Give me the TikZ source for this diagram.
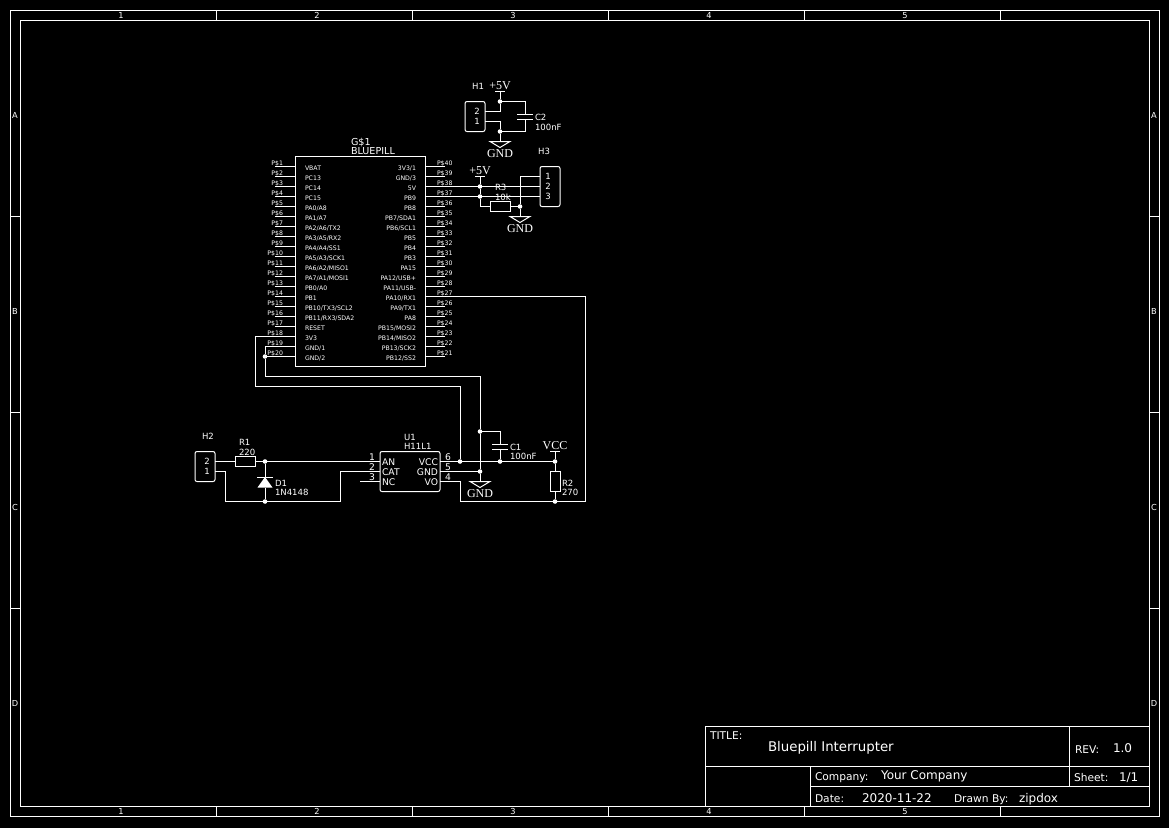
\documentclass[tikz,border=0pt]{standalone}
\usepackage{fontspec}
\setmainfont{DejaVu Sans}
\newfontfamily\symfont{Liberation Serif}
\def\px{0.75pt}
\tikzset{
	every path/.style={white},
	every node/.style={text=white,inner sep=0pt,outer sep=0pt},
	junction/.style={circle,fill=white,draw=none,minimum size=4.6*\px},
	res/.style={draw,minimum width=20*\px,minimum height=10*\px},
	resv/.style={draw,minimum width=10*\px,minimum height=20*\px},
	header/.style={draw,rounded corners=1.5pt,minimum width=20*\px},
	pinfont/.style={font=\fontsize{4.65pt}{0pt}\selectfont},
	partfont/.style={font=\fontsize{6.4pt}{0pt}\selectfont},
	framefont/.style={font=\fontsize{6.2pt}{0pt}\selectfont},
	icfont/.style={font=\fontsize{6.9pt}{0pt}\selectfont},
	titlefont/.style={font=\fontsize{8pt}{0pt}\selectfont},
	bigfont/.style={font=\fontsize{9pt}{0pt}\selectfont},
	symfont/.style={font=\fontsize{9pt}{0pt}\symfont},
}
\begin{document}
\begin{tikzpicture}[x=0.75pt,y=-0.75pt,line width=0.75pt,line join=miter]
	\fill[black] (0,0) rectangle (1169,828);
	\useasboundingbox (0,0) rectangle (1169,828);
	\begin{scope}[yshift=-0.375pt]
		% sheet frame
		\node[draw,minimum width=1149*\px,minimum height=806*\px] (outer) at (584.5,413) {};
		\node[draw,minimum width=1129*\px,minimum height=786*\px] (inner) at (584.5,413) {};
		\foreach \x/\n in {216/1,412/2,608/3,804/4,1000/5}
		{
			\draw (\x,10)--(\x,20);
			\draw (\x,806)--(\x,816);
			\node[framefont] (top\n) at (\x-95,15) {\n};
			\node[framefont] (bot\n) at (\x-95,811) {\n};
		}
		\foreach \y/\n in {216/A,412/B,608/C,804/D}
		{
			\ifnum\y<800
			\draw (10,\y)--(20,\y);
			\draw (1149,\y)--(1159,\y);
			\fi
			\node[framefont] (left\n) at (15,\y-101) {\n};
			\node[framefont] (right\n) at (1154,\y-101) {\n};
		}
		% title block
		\node[draw,minimum width=444*\px,minimum height=80*\px] (block) at (927,766) {};
		\coordinate (bla) at (705,766);
		\coordinate (blb) at (1149,766);
		\coordinate (blc) at (1069,726);
		\coordinate (bld) at (1069,786);
		\coordinate (ble) at (810,766);
		\coordinate (blf) at (810,806);
		\coordinate (blg) at (1149,786);
		\draw (bla)--(blb);
		\draw (blc)--(bld);
		\draw (ble)--(blf);
		\draw (blf |- blg)--(blg);
		\node[anchor=mid west,titlefont] (ttitle) at (710,735) {TITLE:};
		\node[anchor=mid west,font=\fontsize{10pt}{0pt}\selectfont] (tname) at (768,747) {Bluepill Interrupter};
		\node[anchor=mid west,titlefont] (trev) at (1075,749) {REV:};
		\node[anchor=mid west,bigfont] (trevn) at (1113,748) {1.0};
		\node[anchor=mid west,titlefont] (tsheet) at (1074,777) {Sheet:};
		\node[anchor=mid west,bigfont] (tsheetn) at (1119,777) {1/1};
		\node[anchor=mid west,titlefont] (tcomp) at (815,776) {Company:};
		\node[anchor=mid west,bigfont] (tcompn) at (881,775.5) {Your Company};
		\node[anchor=mid west,titlefont] (tdate) at (815,798) {Date:};
		\node[anchor=mid west,bigfont] (tdaten) at (862,798) {2020-11-22};
		\node[anchor=mid west,titlefont] (tdrawn) at (954,798) {Drawn By:};
		\node[anchor=mid west,bigfont] (tdrawnn) at (1019,798) {zipdox};
		% bluepill
		\node[draw,minimum width=130*\px,minimum height=210*\px] (g1) at (360,261) {};
		\node[anchor=mid west,font=\fontsize{7.2pt}{0pt}\selectfont] (g1name) at (351,141) {G\$1};
		\node[anchor=mid west,font=\fontsize{7.2pt}{0pt}\selectfont] (g1val) at (351,150) {BLUEPILL};
		\foreach \lbl [count=\i] in {VBAT,PC13,PC14,PC15,PA0/A8,PA1/A7,PA2/A6/TX2,PA3/A5/RX2,PA4/A4/SS1,PA5/A3/SCK1,PA6/A2/MISO1,PA7/A1/MOSI1,PB0/A0,PB1,PB10/TX3/SCL2,PB11/RX3/SDA2,RESET,3V3,GND/1,GND/2}
		{
			\coordinate (l\i) at (275,{156+10*\i});
			\draw (l\i)--(l\i -| g1.west);
			\node[anchor=mid east,pinfont] (ln\i) at (283,{151+10*\i}) {P\$\i};
			\node[anchor=mid west,pinfont] (lt\i) at (305,{156.7+10*\i}) {\lbl};
		}
		\foreach \lbl [count=\i] in {3V3/1,GND/3,5V,PB9,PB8,PB7/SDA1,PB6/SCL1,PB5,PB4,PB3,PA15,PA12/USB+,PA11/USB-,PA10/RX1,PA9/TX1,PA8,PB15/MOSI2,PB14/MISO2,PB13/SCK2,PB12/SS2}
		{
			\pgfmathtruncatemacro\n{41-\i}
			\coordinate (r\n) at (445,{156+10*\i});
			\draw (r\n)--(r\n -| g1.east);
			\node[anchor=mid west,pinfont] (rn\n) at (437,{151+10*\i}) {P\$\n};
			\node[anchor=mid east,pinfont] (rt\n) at (416,{156.7+10*\i}) {\lbl};
		}
		% junctions
		\foreach \nm/\x/\y in {ja/500/101,jb/500/131,jc/480/186,jd/480/196,je/520/206,jf/265/356,jg/265/461,jh/265/501,ji/480/431,jj/480/471,jk/460/461,jl/500/461,jm/555/461,jn/555/501}
		{\node[junction] (\nm) at (\x,\y) {};}
		% supply and ground symbols
		\foreach \nm/\x/\y in {gnda/500/141,gndb/520/216,gndc/480/481}
		{
			\coordinate (\nm) at (\x,\y);
			\draw (\x-10,\y)--(\x+10,\y)--(\x,\y+6)--cycle;
			\node[symfont] (\nm t) at (\x,\y+12) {GND};
		}
		\foreach \nm/\x/\y in {vpa/500/91,vpb/480/176}
		{
			\coordinate (\nm) at (\x,\y);
			\draw (\x-5,\y)--(\x+5,\y);
			\node[symfont] (\nm t) at (\x,\y-5.5) {+5V};
		}
		\coordinate (vcc) at (555,451);
		\draw (550,451)--(560,451);
		\node[symfont] (vcct) at (555,445.5) {VCC};
		% H1 and C2
		\node[header,minimum height=30*\px] (h1) at (475,116) {};
		\node[partfont] (h1n) at (478,86) {H1};
		\node[partfont] (h1b) at (477,111) {2};
		\node[partfont] (h1a) at (477,121) {1};
		\coordinate (h1p2) at (485,111);
		\coordinate (h1p1) at (485,121);
		\coordinate (c2t) at (525,114);
		\coordinate (c2b) at (525,118.5);
		\draw (vpa)--(ja)--(ja |- h1p2)--(h1p2);
		\draw (h1p1)--(h1p1 -| jb)--(jb)--(gnda);
		\draw (ja)--(ja -| c2t)--(c2t);
		\draw (c2b)--(c2b |- jb)--(jb);
		\draw (517,114)--(533,114);
		\draw (517,118.5)--(533,118.5);
		\node[anchor=mid west,partfont] (c2n) at (535,116) {C2};
		\node[anchor=mid west,partfont] (c2v) at (535,126) {100nF};
		% H3 and R3
		\node[header,minimum height=40*\px] (h3) at (550,186) {};
		\node[partfont] (h3n) at (544,151) {H3};
		\node[partfont] (h3a) at (548,176) {1};
		\node[partfont] (h3b) at (548,186) {2};
		\node[partfont] (h3c) at (548,196) {3};
		\coordinate (h3p1) at (540,176);
		\node[res] (r3) at (500,206) {};
		\node[anchor=mid west,partfont] (r3n) at (495,186) {R3};
		\node[anchor=mid west,partfont] (r3v) at (495,196) {10k};
		\draw (r38)--(r38 -| h3.west);
		\draw (r37)--(r37 -| h3.west);
		\draw (vpb)--(jc);
		\draw (jc)--(jd)--(jd |- r3)--(r3.west);
		\draw (r3.east)--(je)--(gndb);
		\draw (je)--(je |- h3p1)--(h3p1);
		% H2, R1, D1
		\node[header,minimum height=30*\px] (h2) at (205,466) {};
		\node[partfont] (h2n) at (208,436) {H2};
		\node[partfont] (h2b) at (207,461) {2};
		\node[partfont] (h2a) at (207,471) {1};
		\coordinate (h2p2) at (215,461);
		\coordinate (h2p1) at (215,471);
		\node[res] (r1) at (245,461) {};
		\node[anchor=mid west,partfont] (r1n) at (239,441) {R1};
		\node[anchor=mid west,partfont] (r1v) at (239,451) {220};
		\coordinate (d1a) at (265,477);
		\coordinate (d1b) at (265,487);
		\draw (257,476.5)--(273,476.5);
		\fill (257.5,487)--(272.5,487)--(265,476.5)--cycle;
		\node[anchor=mid west,partfont] (d1n) at (275,482) {D1};
		\node[anchor=mid west,partfont] (d1v) at (275,491) {1N4148};
		% U1
		\node[header,minimum width=60*\px,minimum height=40*\px] (u1) at (410,471) {};
		\node[anchor=mid west,partfont] (u1n) at (404,436) {U1};
		\node[anchor=mid west,partfont] (u1v) at (404,445) {H11L1};
		\foreach \n/\y/\lbl in {1/461/AN,2/471/CAT,3/481/NC}
		{
			\node[anchor=mid west,icfont] (ula\n) at (382,\y) {\lbl};
			\node[icfont] (uln\n) at (372,\y-4) {\n};
		}
		\foreach \n/\y/\lbl in {6/461/VCC,5/471/GND,4/481/VO}
		{
			\node[anchor=mid east,icfont] (ura\n) at (438,\y) {\lbl};
			\node[icfont] (urn\n) at (448,\y-4) {\n};
		}
		\coordinate (u1p1) at (380,461);
		\coordinate (u1p2) at (380,471);
		\coordinate (u1p3) at (380,481);
		\coordinate (u1p3s) at (360,481);
		\coordinate (u1p6) at (440,461);
		\coordinate (u1p5) at (440,471);
		\coordinate (u1p4) at (440,481);
		\draw (u1p3s)--(u1p3);
		\draw (h2p2)--(r1.west);
		\draw (r1.east)--(jg)--(u1p1);
		\draw (jg)--(d1a);
		\draw (d1b)--(jh);
		\draw (h2p1)--(225,471)--(225,501)--(jh)--(340,501)--(340,471)--(u1p2);
		% C1 and R2
		\coordinate (c1t) at (500,444);
		\coordinate (c1b) at (500,449);
		\draw (492,444)--(508,444);
		\draw (492,449)--(508,449);
		\node[anchor=mid west,partfont] (c1n) at (510,446) {C1};
		\node[anchor=mid west,partfont] (c1v) at (510,455) {100nF};
		\node[resv] (r2) at (555,481) {};
		\node[anchor=mid west,partfont] (r2n) at (562,482) {R2};
		\node[anchor=mid west,partfont] (r2v) at (562,491) {270};
		\draw (ji)--(ji -| c1t)--(c1t);
		\draw (c1b)--(jl);
		\draw (u1p6)--(jk)--(jl)--(jm);
		\draw (vcc)--(jm)--(r2.north);
		\draw (r2.south)--(jn);
		\draw (u1p5)--(jj);
		\draw (u1p4)--(460,481)--(460,501)--(jn)--(585,501)--(585,296)--(r27);
		% long wires from the bluepill
		\draw (l18)--(255,336)--(255,386)--(460,386)--(jk);
		\draw (l19 -| jf)--(l19);
		\draw (l20)--(jf);
		\draw (l19 -| jf)--(jf)--(265,376)--(480,376)--(ji)--(jj)--(gndc);
	\end{scope}
\end{tikzpicture}
\end{document}
